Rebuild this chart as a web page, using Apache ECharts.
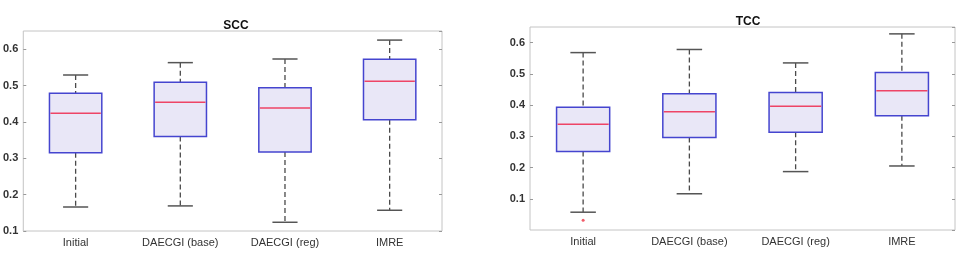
<!DOCTYPE html>
<html>
<head>
<meta charset="utf-8">
<script src="https://cdn.jsdelivr.net/npm/echarts@6/dist/echarts.min.js"></script>
<style>
  html, body { margin: 0; padding: 0; background: #fff; }
  #chart { width: 968px; height: 262px; }
</style>
</head>
<body>
<div id="chart"></div>
<script>
// categories + box stats [min, q1, median, q3, max]
const categories = ['Initial', 'DAECGI (base)', 'DAECGI (reg)', 'IMRE']
const sccBoxes = [
  [0.166, 0.315, 0.424, 0.479, 0.529],
  [0.169, 0.360, 0.454, 0.509, 0.563],
  [0.124, 0.317, 0.438, 0.494, 0.573],
  [0.157, 0.406, 0.512, 0.572, 0.625]
]
const tccBoxes = [
  [0.057, 0.251, 0.339, 0.393, 0.568],
  [0.116, 0.296, 0.379, 0.436, 0.578],
  [0.187, 0.313, 0.396, 0.440, 0.535],
  [0.205, 0.366, 0.446, 0.504, 0.628]
]
const tccOutliers = [[0, 0.031]]

const FONT = '"Liberation Sans", Arial, Helvetica, sans-serif'
let myChart = echarts.init(document.getElementById('chart'))

function renderBox(params, api) {
  const i = api.value(0)
  const lo = api.coord([i, api.value(1)])
  const q1 = api.coord([i, api.value(2)])
  const md = api.coord([i, api.value(3)])
  const q3 = api.coord([i, api.value(4)])
  const hi = api.coord([i, api.value(5)])
  const band = api.size([1, 0])[0]
  const bw = band * 0.5
  const cw = band * 0.24
  const cx = lo[0]
  const dash = { stroke: '#4a4a4a', lineWidth: 1.3, lineDash: [5, 3] }
  const cap = { stroke: '#555', lineWidth: 1.5 }
  return {
    type: 'group',
    children: [
      { type: 'line', shape: { x1: cx, y1: hi[1], x2: cx, y2: q3[1] }, style: dash },
      { type: 'line', shape: { x1: cx, y1: q1[1], x2: cx, y2: lo[1] }, style: dash },
      { type: 'line', shape: { x1: cx - cw / 2, y1: hi[1], x2: cx + cw / 2, y2: hi[1] }, style: cap },
      { type: 'line', shape: { x1: cx - cw / 2, y1: lo[1], x2: cx + cw / 2, y2: lo[1] }, style: cap },
      {
        type: 'rect',
        shape: { x: cx - bw / 2, y: q3[1], width: bw, height: q1[1] - q3[1] },
        style: { fill: '#e9e7f7', stroke: '#4545cf', lineWidth: 1.5 }
      },
      { type: 'line', shape: { x1: cx - bw / 2 + 1, y1: md[1], x2: cx + bw / 2 - 1, y2: md[1] }, style: { stroke: '#ee4466', lineWidth: 1.5 } }
    ]
  }
}

function xAxes(gridIndex) {
  return [
    {
      type: 'category', gridIndex: gridIndex, data: categories, position: 'bottom',
      axisLine: { show: false },
      axisTick: { inside: true, length: 3, alignWithLabel: true, lineStyle: { color: '#999' } },
      axisLabel: { color: '#333', fontSize: 11, fontFamily: FONT, margin: 6 },
      splitLine: { show: false }
    },
    {
      type: 'category', gridIndex: gridIndex, data: categories, position: 'top',
      axisLine: { show: false },
      axisTick: { inside: true, length: 3, alignWithLabel: true, lineStyle: { color: '#999' } },
      axisLabel: { show: false },
      splitLine: { show: false }
    }
  ]
}

function yAxes(gridIndex, min, max) {
  const base = {
    type: 'value', gridIndex: gridIndex, min: min, max: max, interval: 0.1,
    axisLine: { show: false },
    axisTick: { show: true, inside: true, length: 3, lineStyle: { color: '#999' } },
    splitLine: { show: false }
  }
  return [
    Object.assign({}, base, {
      position: 'left',
      axisLabel: {
        color: '#333', fontSize: 11, fontWeight: 'bold', fontFamily: FONT, margin: 5,
        showMaxLabel: false, showMinLabel: min > 0,
        formatter: v => v.toFixed(1)
      }
    }),
    Object.assign({}, base, { position: 'right', axisLabel: { show: false } })
  ]
}

const option = {
  animation: false,
  backgroundColor: '#fff',
  title: [
    { text: 'SCC', left: 231, top: 15, textAlign: 'center', textStyle: { fontSize: 12, fontWeight: 'bold', color: '#111', fontFamily: FONT } },
    { text: 'TCC', left: 743, top: 11, textAlign: 'center', textStyle: { fontSize: 12, fontWeight: 'bold', color: '#111', fontFamily: FONT } }
  ],
  grid: [
    { left: 22, top: 31, width: 420, height: 200, show: true, borderColor: '#c4c4c4', borderWidth: 1 },
    { left: 530, top: 27, width: 425, height: 203, show: true, borderColor: '#c4c4c4', borderWidth: 1 }
  ],
  xAxis: xAxes(0).concat(xAxes(1)),
  yAxis: yAxes(0, 0.1, 0.65).concat(yAxes(1, 0, 0.65)),
  series: [
    {
      type: 'custom', name: 'SCC', xAxisIndex: 0, yAxisIndex: 0,
      renderItem: renderBox,
      encode: { x: 0, y: [1, 2, 3, 4, 5] },
      data: sccBoxes.map((b, i) => [i].concat(b))
    },
    {
      type: 'custom', name: 'TCC', xAxisIndex: 2, yAxisIndex: 2,
      renderItem: renderBox,
      encode: { x: 0, y: [1, 2, 3, 4, 5] },
      data: tccBoxes.map((b, i) => [i].concat(b))
    },
    {
      type: 'scatter', name: 'outliers', xAxisIndex: 2, yAxisIndex: 2,
      symbol: 'circle', symbolSize: 3,
      itemStyle: { color: '#ee3344' },
      data: tccOutliers
    }
  ]
}
myChart.setOption(option)
</script>
</body>
</html>
